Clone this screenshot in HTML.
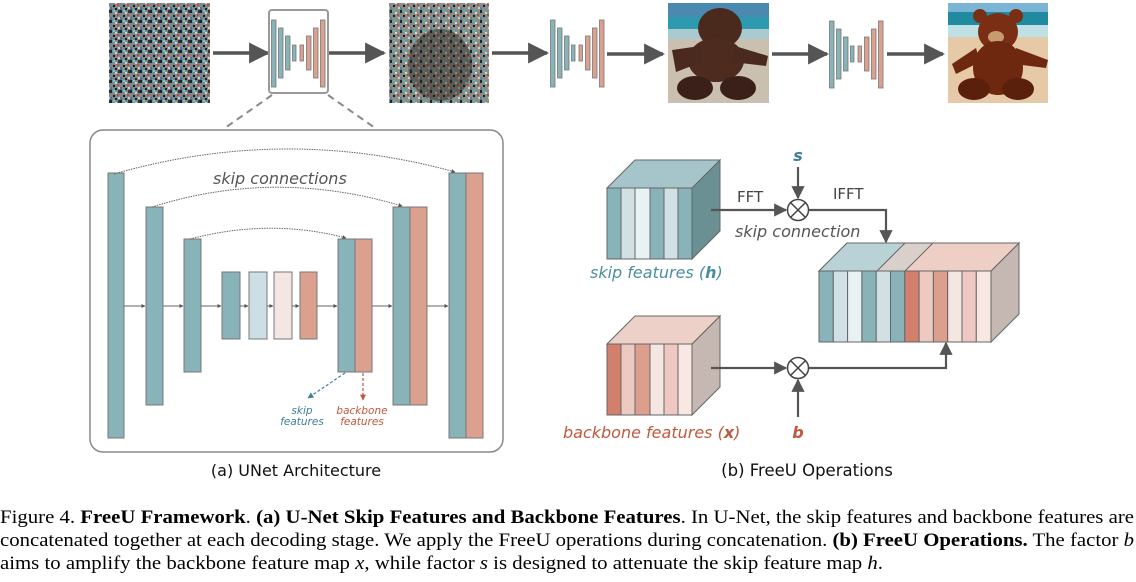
<!DOCTYPE html>
<html><head><meta charset="utf-8"><style>
html,body{margin:0;padding:0;background:#fff;width:1136px;height:582px;overflow:hidden}
svg{display:block}
.cal{font-family:"DejaVu Sans","Liberation Sans",sans-serif}
.cap{font-family:"Liberation Serif",serif;font-size:19px;fill:#000}
</style></head><body>
<svg width="1136" height="582" viewBox="0 0 1136 582" xmlns="http://www.w3.org/2000/svg">
<defs>
<marker id="ah" viewBox="0 0 10 10" refX="9" refY="5" markerWidth="6" markerHeight="6" orient="auto"><path d="M0,0L10,5L0,10z" fill="#555"/></marker>
<marker id="ahs" viewBox="0 0 10 10" refX="9" refY="5" markerWidth="4" markerHeight="4" orient="auto"><path d="M0,0L10,5L0,10z" fill="#555"/></marker>
<marker id="ahb" viewBox="0 0 10 10" refX="9" refY="5" markerWidth="5" markerHeight="5" orient="auto"><path d="M0,0L10,5L0,10z" fill="#3d7f99"/></marker>
<marker id="ahr" viewBox="0 0 10 10" refX="9" refY="5" markerWidth="5" markerHeight="5" orient="auto"><path d="M0,0L10,5L0,10z" fill="#c0583c"/></marker>
<pattern id="noise" width="10" height="10" patternUnits="userSpaceOnUse">
<rect width="10" height="10" fill="#7d8a8c"/>
<rect x="0" y="0" width="2" height="3" fill="#222"/><rect x="5" y="2" width="2" height="2" fill="#b8d8e8"/>
<rect x="3" y="5" width="2" height="2" fill="#1a1a1a"/><rect x="8" y="7" width="2" height="2" fill="#d9c9a8"/>
<rect x="0" y="7" width="2" height="3" fill="#4a6fa8"/><rect x="7" y="4" width="2" height="2" fill="#c44"/>
<rect x="3" y="0" width="2" height="2" fill="#6cc"/><rect x="8" y="0" width="2" height="3" fill="#333"/>
<rect x="5" y="8" width="2" height="2" fill="#222"/>
</pattern>
<pattern id="noise2" width="10" height="10" patternUnits="userSpaceOnUse">
<rect width="10" height="10" fill="#8a8e88"/>
<rect x="0" y="0" width="2" height="3" fill="#2a2420"/><rect x="5" y="2" width="2" height="2" fill="#c8dde8"/>
<rect x="3" y="5" width="2" height="2" fill="#1a1a1a"/><rect x="8" y="7" width="2" height="2" fill="#d9c9a8"/>
<rect x="0" y="7" width="2" height="3" fill="#5a7fa8"/><rect x="7" y="4" width="2" height="2" fill="#a55"/>
<rect x="3" y="0" width="2" height="2" fill="#4bb"/>
</pattern>
</defs>

<!-- top row images -->
<rect x="109" y="3" width="101" height="100" fill="url(#noise)"/>
<rect x="389" y="3" width="100" height="100" fill="url(#noise2)"/>
<ellipse cx="440" cy="65" rx="32" ry="36" fill="#2a1e1a" opacity="0.45"/>
<!-- image 3 -->
<rect x="668" y="3" width="101" height="100" fill="#c9c0b0"/>
<rect x="668" y="3" width="101" height="14" fill="#4a8ab0"/>
<rect x="668" y="17" width="101" height="12" fill="#2e9ab0"/>
<rect x="668" y="29" width="101" height="10" fill="#aacad2"/>
<ellipse cx="720" cy="28" rx="22" ry="20" fill="#4a2a1c"/>
<ellipse cx="716" cy="60" rx="28" ry="22" fill="#4d2b1e"/>
<path d="M672 50 L700 46 L702 62 L676 72z" fill="#4a2a1e"/>
<path d="M735 46 L768 56 L766 66 L732 62z" fill="#4a2a1e"/>
<ellipse cx="695" cy="88" rx="18" ry="12" fill="#3a2018"/><ellipse cx="738" cy="88" rx="18" ry="12" fill="#3a2018"/>
<!-- image 4 -->
<rect x="948" y="3" width="100" height="100" fill="#e6c9a6"/>
<rect x="948" y="3" width="100" height="9" fill="#7bb5d6"/>
<rect x="948" y="12" width="100" height="13" fill="#1f8aa0"/>
<rect x="948" y="25" width="100" height="12" fill="#bfe0e4"/>
<ellipse cx="998" cy="32" rx="20" ry="19" fill="#7a2e14"/>
<circle cx="980" cy="16" r="7" fill="#7a2e14"/><circle cx="1016" cy="16" r="7" fill="#7a2e14"/>
<ellipse cx="996" cy="37" rx="8" ry="6" fill="#c89a70"/>
<ellipse cx="998" cy="68" rx="25" ry="27" fill="#6e2810"/>
<path d="M952 64 L976 48 L980 62 L956 74z" fill="#6e2810"/>
<path d="M1016 48 L1048 60 L1046 68 L1014 64z" fill="#6e2810"/>
<ellipse cx="974" cy="89" rx="16" ry="11" fill="#5a200c"/><ellipse cx="1018" cy="89" rx="16" ry="11" fill="#5a200c"/>

<!-- top arrows -->
<g stroke="#555" stroke-width="3.5" fill="none" marker-end="url(#ah)">
<line x1="213" y1="53" x2="268" y2="53"/>
<line x1="329" y1="53" x2="384" y2="53"/>
<line x1="492" y1="53" x2="547" y2="53"/>
<line x1="607" y1="54" x2="663" y2="54"/>
<line x1="772" y1="54" x2="827" y2="54"/>
<line x1="887" y1="54" x2="943" y2="54"/>
</g>
<rect x="269" y="10" width="59" height="83" rx="3" fill="none" stroke="#999" stroke-width="2"/>
<g stroke="#777" stroke-width="0.8" id="ic">
<rect x="271.5" y="20" width="4.5" height="67" fill="#87b3b9"/>
<rect x="278.5" y="28" width="4.5" height="50" fill="#87b3b9"/>
<rect x="285.5" y="36" width="4.5" height="34" fill="#87b3b9"/>
<rect x="292.5" y="45" width="3.5" height="16" fill="#87b3b9"/>
<rect x="300" y="45" width="3.5" height="16" fill="#dca08f"/>
<rect x="306.5" y="36" width="4.5" height="34" fill="#dca08f"/>
<rect x="313.5" y="28" width="4.5" height="50" fill="#dca08f"/>
<rect x="320.5" y="20" width="4.5" height="67" fill="#dca08f"/>
</g>
<use href="#ic" x="279" y="0"/>
<use href="#ic" x="558" y="1"/>
<!-- dashed zoom lines -->
<line x1="272" y1="95" x2="225" y2="128" stroke="#888" stroke-width="2" stroke-dasharray="7,5"/>
<line x1="328" y1="95" x2="375" y2="128" stroke="#888" stroke-width="2" stroke-dasharray="7,5"/>

<!-- UNet box -->
<rect x="90" y="130" width="413" height="322" rx="13" fill="#fff" stroke="#888" stroke-width="1.5"/>
<g stroke="#777" stroke-width="1">
<rect x="108" y="173" width="16" height="265" fill="#87b3b9"/>
<rect x="146" y="207" width="17" height="198" fill="#87b3b9"/>
<rect x="184" y="239" width="17" height="133" fill="#87b3b9"/>
<rect x="222" y="272" width="18" height="67" fill="#87b3b9"/>
<rect x="249" y="272" width="18" height="67" fill="#cddfe4"/>
<rect x="274" y="272" width="18" height="67" fill="#f4e6e2"/>
<rect x="300" y="272" width="17" height="67" fill="#dca08f"/>
<rect x="338" y="239" width="17" height="133" fill="#87b3b9"/>
<rect x="355" y="239" width="17" height="133" fill="#dca08f"/>
<rect x="393" y="207" width="17" height="198" fill="#87b3b9"/>
<rect x="410" y="207" width="17" height="198" fill="#dca08f"/>
<rect x="449" y="173" width="17" height="265" fill="#87b3b9"/>
<rect x="466" y="173" width="17" height="265" fill="#dca08f"/>
</g>
<g stroke="#666" stroke-width="1" marker-end="url(#ahs)">
<line x1="124" y1="306" x2="145" y2="306"/>
<line x1="163" y1="306" x2="183" y2="306"/>
<line x1="201" y1="306" x2="221" y2="306"/>
<line x1="240" y1="306" x2="248" y2="306"/>
<line x1="267" y1="306" x2="273" y2="306"/>
<line x1="292" y1="306" x2="299" y2="306"/>
<line x1="317" y1="306" x2="337" y2="306"/>
<line x1="372" y1="306" x2="392" y2="306"/>
<line x1="427" y1="306" x2="448" y2="306"/>
</g>
<g stroke="#666" stroke-width="1" fill="none" stroke-dasharray="1.5,1" marker-end="url(#ahs)">
<path d="M114,174 Q285,125 455,172"/>
<path d="M152,207 Q275,168 402,206"/>
<path d="M190,239 Q270,218 346,238"/>
</g>
<text x="213" y="184" class="cal" font-size="16" font-style="italic" fill="#555">skip connections</text>
<line x1="345" y1="373" x2="308" y2="398" stroke="#3d7f99" stroke-width="1.2" stroke-dasharray="3,2" marker-end="url(#ahb)"/>
<line x1="363" y1="373" x2="363" y2="400" stroke="#c0583c" stroke-width="1.2" stroke-dasharray="3,2" marker-end="url(#ahr)"/>
<text x="302" y="414" class="cal" font-size="10.5" font-style="italic" fill="#3d7f99" text-anchor="middle">skip</text>
<text x="302" y="425" class="cal" font-size="10.5" font-style="italic" fill="#3d7f99" text-anchor="middle">features</text>
<text x="362" y="414" class="cal" font-size="10.5" font-style="italic" fill="#c0583c" text-anchor="middle">backbone</text>
<text x="362" y="425" class="cal" font-size="10.5" font-style="italic" fill="#c0583c" text-anchor="middle">features</text>
<text x="296" y="476" class="cal" font-size="16" fill="#111" text-anchor="middle">(a) UNet Architecture</text>

<!-- FreeU ops: skip cube -->
<g stroke="#666" stroke-width="1">
<polygon points="692,188 720,160 720,231 692,259" fill="#6b9093"/>
<polygon points="607,188 635,160 720,160 692,188" fill="#a5c5ca"/>
<rect x="607" y="188" width="14" height="71" fill="#87b3b9"/>
<rect x="621" y="188" width="14" height="71" fill="#d0e0e5"/>
<rect x="635" y="188" width="15" height="71" fill="#e9f2f2"/>
<rect x="650" y="188" width="14" height="71" fill="#87b3b9"/>
<rect x="664" y="188" width="14" height="71" fill="#d0e0e5"/>
<rect x="678" y="188" width="14" height="71" fill="#87b3b9"/>
<polygon points="692,344 720,316 720,387 692,415" fill="#c5b8b3"/>
<polygon points="607,344 635,316 720,316 692,344" fill="#edd0c8"/>
<rect x="607" y="344" width="14" height="71" fill="#d27f6e"/>
<rect x="621" y="344" width="14" height="71" fill="#ecc9c1"/>
<rect x="635" y="344" width="15" height="71" fill="#dd9e8d"/>
<rect x="650" y="344" width="14" height="71" fill="#f6e6e2"/>
<rect x="664" y="344" width="14" height="71" fill="#efc7c3"/>
<rect x="678" y="344" width="14" height="71" fill="#f7e8e3"/>
<polygon points="991,271 1019,243 1019,314 991,342" fill="#c5b8b3"/>
<polygon points="819,271 847,243 1019,243 991,271" fill="#d9d0cc"/>
<polygon points="819,271 847,243 905,243 877,271" fill="#b8d2d6"/>
<polygon points="905,271 933,243 1019,243 991,271" fill="#eecfc6"/>
<rect x="819" y="271" width="14.3" height="71" fill="#87b3b9"/>
<rect x="833.3" y="271" width="14.3" height="71" fill="#d0e0e5"/>
<rect x="847.6" y="271" width="14.3" height="71" fill="#e9f2f2"/>
<rect x="861.9" y="271" width="14.3" height="71" fill="#87b3b9"/>
<rect x="876.2" y="271" width="14.3" height="71" fill="#d0e0e5"/>
<rect x="890.5" y="271" width="14.3" height="71" fill="#87b3b9"/>
<rect x="904.8" y="271" width="14.3" height="71" fill="#d27f6e"/>
<rect x="919.1" y="271" width="14.3" height="71" fill="#ecc9c1"/>
<rect x="933.4" y="271" width="14.3" height="71" fill="#dd9e8d"/>
<rect x="947.7" y="271" width="14.3" height="71" fill="#f6e6e2"/>
<rect x="962" y="271" width="14.3" height="71" fill="#efc7c3"/>
<rect x="976.3" y="271" width="14.7" height="71" fill="#f7e8e3"/>
</g>
<g stroke="#555" stroke-width="2.2" fill="none">
<line x1="711" y1="210" x2="786" y2="210" marker-end="url(#ah)"/>
<polyline points="809,210 886,210 886,242" marker-end="url(#ah)"/>
<line x1="711" y1="368" x2="786" y2="368" marker-end="url(#ah)"/>
<polyline points="809,368 946,368 946,343" marker-end="url(#ah)"/>
<line x1="798" y1="167" x2="798" y2="198" marker-end="url(#ah)"/>
<line x1="798" y1="417" x2="798" y2="380" marker-end="url(#ah)"/>
</g>
<g stroke="#444" stroke-width="1.5" fill="#fff">
<circle cx="798" cy="210" r="10.5"/>
<circle cx="798" cy="368" r="10.5"/>
</g>
<g stroke="#444" stroke-width="1.5">
<line x1="790.6" y1="202.6" x2="805.4" y2="217.4"/><line x1="805.4" y1="202.6" x2="790.6" y2="217.4"/>
<line x1="790.6" y1="360.6" x2="805.4" y2="375.4"/><line x1="805.4" y1="360.6" x2="790.6" y2="375.4"/>
</g>
<text x="798" y="161" class="cal" font-size="16" font-style="italic" font-weight="bold" fill="#3d7f99" text-anchor="middle">s</text>
<text x="798" y="438" class="cal" font-size="16" font-style="italic" font-weight="bold" fill="#c0583c" text-anchor="middle">b</text>
<text x="737" y="202" class="cal" font-size="15" fill="#444">FFT</text>
<text x="833" y="199" class="cal" font-size="15" fill="#444">IFFT</text>
<text x="735" y="237" class="cal" font-size="16" font-style="italic" fill="#555">skip connection</text>
<text x="590" y="278" class="cal" font-size="16" font-style="italic" fill="#4a8ea0">skip features (<tspan font-weight="bold">h</tspan>)</text>
<text x="563" y="438" class="cal" font-size="16" font-style="italic" fill="#c0583c">backbone features (<tspan font-weight="bold">x</tspan>)</text>
<text x="807" y="476" class="cal" font-size="16.5" fill="#111" text-anchor="middle">(b) FreeU Operations</text>

<!-- caption -->
<text x="0" y="523" class="cap" textLength="1134" lengthAdjust="spacingAndGlyphs">Figure 4. <tspan font-weight="bold">FreeU Framework</tspan>. <tspan font-weight="bold">(a) U-Net Skip Features and Backbone Features</tspan>. In U-Net, the skip features and backbone features are</text>
<text x="0" y="546" class="cap" textLength="1134" lengthAdjust="spacingAndGlyphs">concatenated together at each decoding stage. We apply the FreeU operations during concatenation. <tspan font-weight="bold">(b) FreeU Operations.</tspan> The factor <tspan font-style="italic">b</tspan></text>
<text x="0" y="569" class="cap" textLength="883" lengthAdjust="spacingAndGlyphs">aims to amplify the backbone feature map <tspan font-style="italic">x</tspan>, while factor <tspan font-style="italic">s</tspan> is designed to attenuate the skip feature map <tspan font-style="italic">h</tspan>.</text>
</svg>
</body></html>
